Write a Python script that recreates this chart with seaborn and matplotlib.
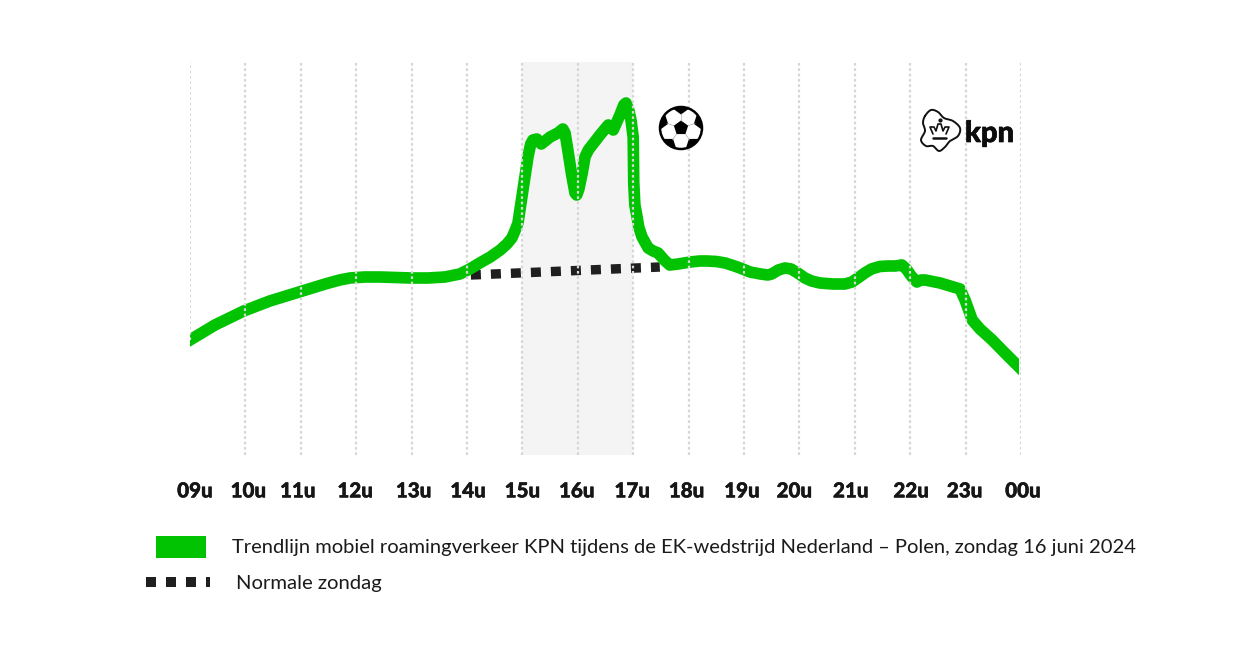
import matplotlib
matplotlib.use("Agg")
import matplotlib.pyplot as plt
import matplotlib.patheffects as pe
import matplotlib.transforms as mtrans
from matplotlib.patches import Circle, Polygon, Rectangle
import numpy as np
import pandas as pd
import seaborn as sns

hours = [9, 10, 11, 12, 13, 14, 15, 16, 17, 18, 19, 20, 21, 22, 23, 24]
hour_labels = ["09u", "10u", "11u", "12u", "13u", "14u", "15u", "16u", "17u", "18u",
               "19u", "20u", "21u", "22u", "23u", "00u"]
label_nudge_px = [5, 3, -3, -1, 2, 1, 0, -1, -1, -2, -2, -5, -4, 1, -1, 2]

trend_hour = [9.00, 9.45, 9.97, 10.44, 10.97, 11.44, 11.70, 11.89, 12.15, 12.43, 12.99, 13.30, 13.60, 13.87,
              14.05, 14.23, 14.42, 14.60, 14.72, 14.81, 14.88, 14.92, 15.01, 15.10, 15.15, 15.19,
              15.26, 15.34, 15.41, 15.50, 15.64, 15.73, 15.77, 15.82, 15.89, 15.95, 15.98, 16.02,
              16.08, 16.13, 16.19, 16.26, 16.40, 16.55, 16.64, 16.76, 16.83, 16.87, 16.92, 16.96,
              17.00, 17.01, 17.03, 17.07, 17.10, 17.16, 17.27, 17.36, 17.45, 17.56, 17.66, 17.81,
              18.03, 18.20, 18.33, 18.50, 18.66, 18.80, 18.93, 19.11, 19.30, 19.43, 19.50, 19.62,
              19.74, 19.85, 19.97, 20.10, 20.22, 20.37, 20.60,
              20.82, 20.95, 21.08, 21.18, 21.30, 21.45, 21.60, 21.73, 21.85, 21.93, 22.02, 22.12, 22.20, 22.27, 22.54, 22.90,
              22.99, 23.12, 23.26, 23.48, 23.71, 24.00]
trend_value = [115, 130, 144, 154, 163, 171, 175, 177, 178, 178, 177, 177, 178, 181,
               186, 192, 198, 205, 211, 217, 226, 232, 265, 298, 311, 315,
               316, 311, 314, 318, 322, 326, 322, 305, 280, 262, 260, 266,
               282, 298, 305, 310, 320, 330, 325, 340, 350, 352, 345, 335,
               318, 272, 250, 238, 228, 218, 207, 204, 202, 195, 190, 191,
               193, 194, 194, 193.5, 192, 189.5, 187, 183, 181, 180, 181, 185,
               187, 186, 182, 177, 174, 172, 171,
               171, 173, 178, 182, 186, 188.5, 189, 189, 190, 186, 179, 173, 175, 175, 172, 166,
               155, 135, 126, 115, 102, 86]

normal_hour = [14.07, 17.48]
normal_value = [180, 188]

match_window = [15, 17]
legend_trend = "Trendlijn mobiel roamingverkeer KPN tijdens de EK-wedstrijd Nederland \u2013 Polen, zondag 16 juni 2024"
legend_normal = "Normale zondag"

GREEN = "#02c302"
DARK = "#1f1f1f"

sns.set_style("white")
plt.rcParams["font.family"] = ["Lato", "DejaVu Sans"]

W, H = 1239, 645
fig = plt.figure(figsize=(W / 100, H / 100), dpi=100, facecolor="white")
ax = fig.add_axes([190 / W, (H - 455) / H, 831 / W, 393 / H])
ax.set_facecolor("none")

ax.axvspan(*match_window, color="#f4f4f4", lw=0, zorder=0)

sns.lineplot(data=pd.DataFrame({"h": normal_hour, "v": normal_value}), x="h", y="v", ax=ax,
             color=DARK, lw=6.8, zorder=2, errorbar=None, sort=False)
ax.lines[-1].set_dashes([1.06, 1.06])
ax.lines[-1].set_dash_capstyle("butt")

sns.lineplot(data=pd.DataFrame({"h": trend_hour, "v": trend_value}), x="h", y="v", ax=ax,
             color=GREEN, lw=8.4, zorder=3, errorbar=None, sort=False)
green = ax.lines[-1]
green.set_solid_joinstyle("round")
green.set_solid_capstyle("projecting")
green.set_clip_path(Rectangle((9, 0), 14.96, 393, transform=ax.transData))

ax.vlines(hours[0], 115, 393, color="#d8d8d8", lw=1.6, linestyles=(0, (1.2, 1.2)), zorder=4)
ax.vlines(hours[1:], 0, 393, color="#d6d6d6", lw=1.6, linestyles=(0, (1.2, 1.2)), zorder=4)

ax.set_xlim(9, 24)
ax.set_ylim(0, 393)
ax.set_xlabel("")
ax.set_ylabel("")
ax.set_yticks([])
ax.set_xticks(hours)
ax.set_xticklabels(hour_labels, fontweight="black", fontsize=14.8, color="#161616")
ax.tick_params(axis="x", length=0, pad=19)
for lab, dx in zip(ax.get_xticklabels(), label_nudge_px):
    lab.set_transform(lab.get_transform() + mtrans.ScaledTranslation(dx / 100, 0, fig.dpi_scale_trans))
    lab.set_path_effects([pe.withStroke(linewidth=0.35, foreground="#161616")])
sns.despine(ax=ax, left=True, bottom=True)

# overlay in pixel space: legend keys, ball, logo
ov = fig.add_axes([0, 0, 1, 1], facecolor="none")
ov.set_xlim(0, W)
ov.set_ylim(H, 0)
ov.axis("off")

ov.add_patch(Rectangle((156, 536), 50, 22, color=GREEN, lw=0))
for x0, w in [(146, 10), (166, 10), (186, 10), (206, 4)]:
    ov.add_patch(Rectangle((x0, 577), w, 10, color=DARK, lw=0))
ov.text(232, 548, legend_trend, fontsize=14.47, color="#1a1a1a", va="center", ha="left")
ov.text(235.5, 584, legend_normal, fontsize=14.6, color="#1a1a1a", va="center", ha="left")

# football
bx, by, br = 681, 128, 21
rim = Circle((bx, by), br, facecolor="white", edgecolor="black", lw=1.8, zorder=5)
ov.add_patch(rim)


def pent(cx, cy, r, rot):
    a = np.deg2rad(rot + np.arange(5) * 72)
    return np.c_[cx + r * np.sin(a), cy - r * np.cos(a)]


ov.add_patch(Polygon(pent(bx, by, 7.5, 0), color="black", lw=0, zorder=6))
for ang in np.arange(5) * 72:
    a = np.deg2rad(ang)
    p = Polygon(pent(bx + 21 * np.sin(a), by - 21 * np.cos(a), 7.5, ang + 36), color="black", lw=0, zorder=6)
    ov.add_patch(p)
    p.set_clip_path(rim)
    ov.plot([bx + 7.5 * np.sin(a), bx + 15 * np.sin(a)], [by - 7.5 * np.cos(a), by - 15 * np.cos(a)],
            color="#999999", lw=0.4, zorder=6)


def smooth_closed(pts, n=12):
    pts = np.array(pts, float)
    out = []
    m = len(pts)
    for i in range(m):
        p0, p1, p2, p3 = pts[i - 1], pts[i], pts[(i + 1) % m], pts[(i + 2) % m]
        for t in np.linspace(0, 1, n, endpoint=False):
            out.append(0.5 * (2 * p1 + (p2 - p0) * t + (2 * p0 - 5 * p1 + 4 * p2 - p3) * t ** 2
                              + (3 * p1 - p0 - 3 * p2 + p3) * t ** 3))
    out.append(out[0])
    return np.array(out)


# KPN logo
ov.text(965, 134, "kpn", fontweight="black", fontsize=21, color="#0c0c0c",
        va="center", ha="left", zorder=6,
        path_effects=[pe.withStroke(linewidth=0.5, foreground="#0c0c0c")])
outline = [(925, 116), (931, 110), (938, 112), (944, 118), (953, 121), (960, 128), (958, 136),
           (950, 141), (945, 147), (939, 151), (933, 146), (926, 146), (921, 140), (925, 131), (923, 123)]
c = smooth_closed(outline)
ov.plot(c[:, 0], c[:, 1], color="#111111", lw=1.4, zorder=6)
crown = [(933, 134), (930, 127), (934, 127), (936, 131), (938, 124), (941, 124), (943, 131), (945, 127), (949, 127), (946, 134)]
xs, ys = zip(*crown)
ov.plot(xs, ys, color="#111111", lw=1.2, zorder=6)
ov.plot([933, 946], [138, 138], color="#111111", lw=1.8, zorder=6)
ov.plot([939.5], [119.5], "o", color="#111111", ms=2, zorder=6)

fig.savefig("out.png", dpi=100, facecolor="white")
